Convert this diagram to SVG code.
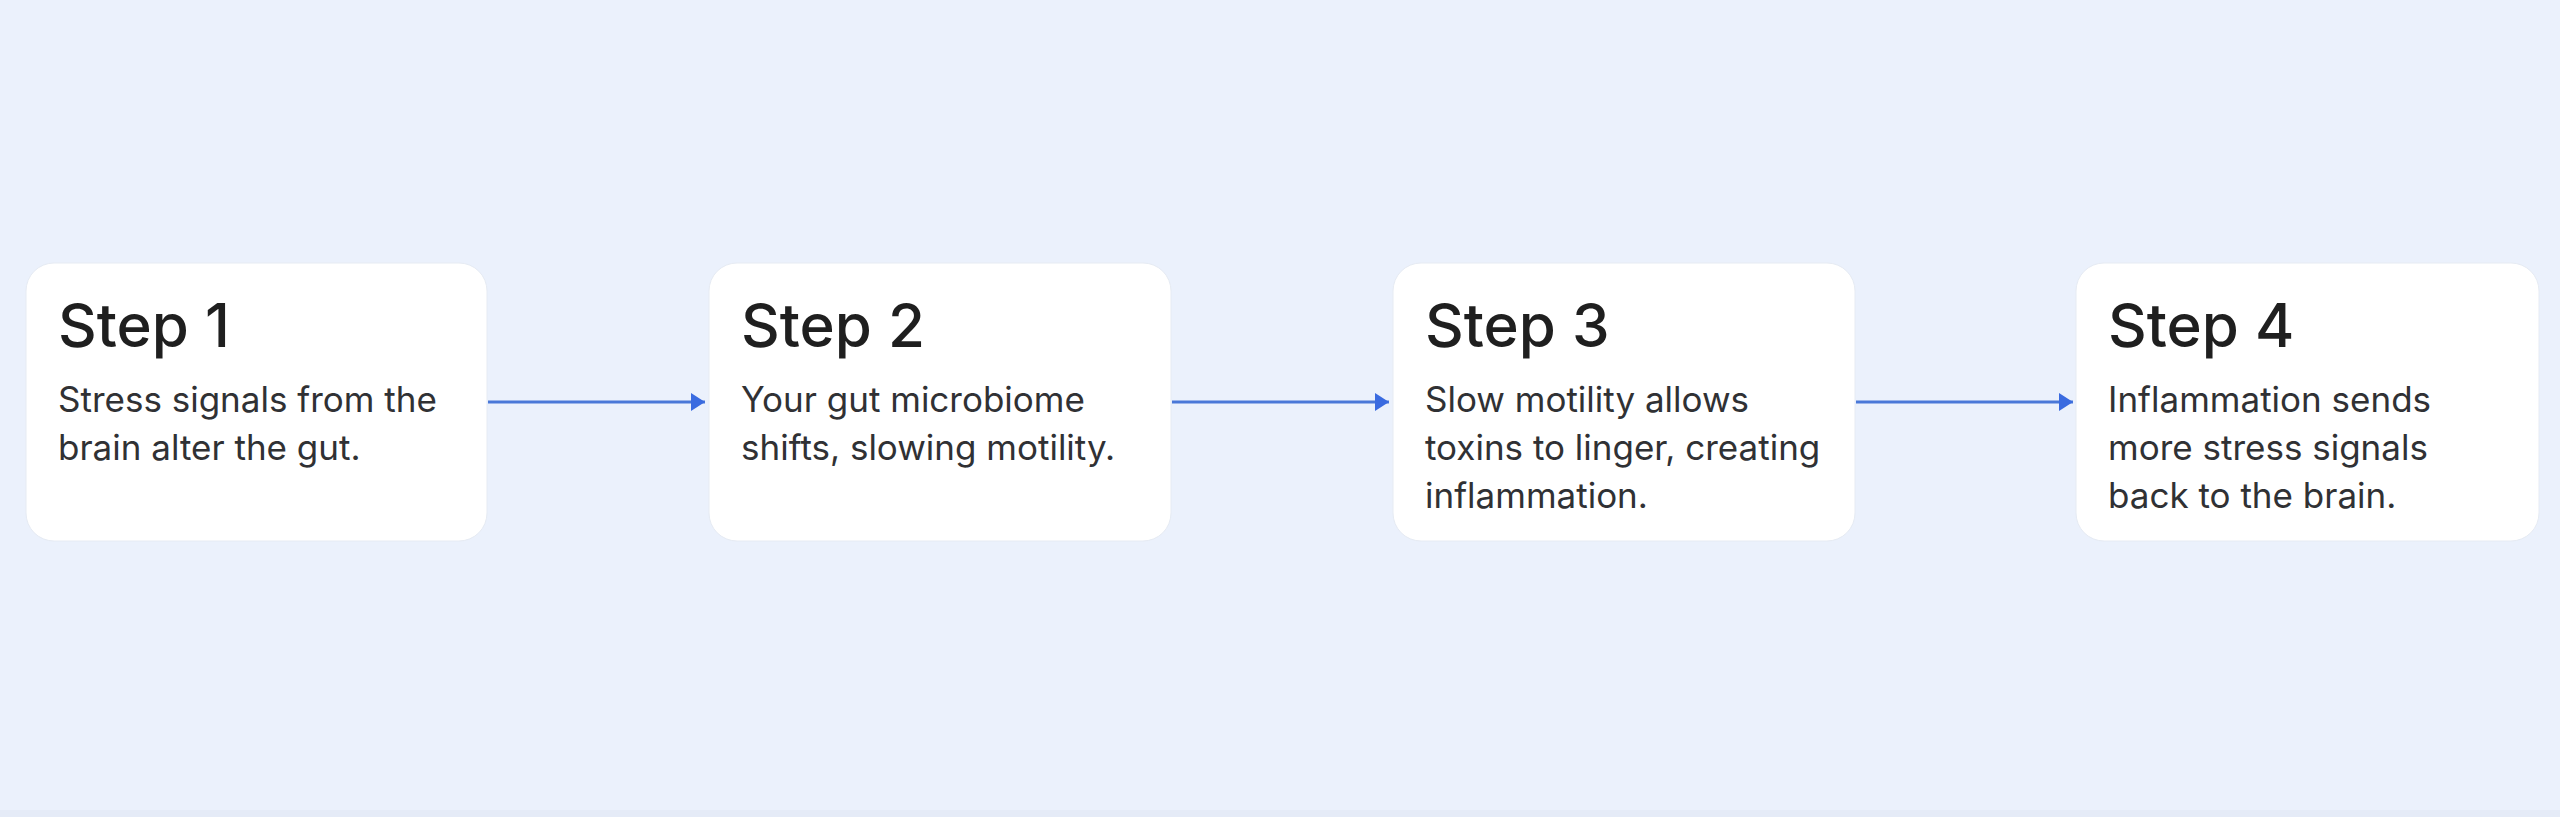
<svg xmlns="http://www.w3.org/2000/svg" width="2560" height="817" viewBox="0 0 2560 817">
<defs>
<style>
.box{fill:#ffffff;stroke:#e6ebf3;stroke-width:1}
.title{font-family:Inter,"Open Sans",sans-serif;font-size:60px;font-weight:500;fill:#1f1f1f}
.body{font-family:Inter,"Open Sans",sans-serif;font-size:35px;font-weight:400;fill:#303134}
.conn{stroke:#4a78d8;stroke-width:3;fill:none}
</style>
<marker id="ah" markerWidth="14" markerHeight="18" refX="14" refY="9" orient="auto" markerUnits="userSpaceOnUse">
<path d="M0,0 L14,9 L0,18 Z" fill="#3a6be0"/>
</marker>
</defs>
<rect x="0" y="0" width="2560" height="817" fill="#ebf1fc"/>
<rect x="0" y="810" width="2560" height="7" fill="#e5ebf7"/>
<g id="connectors">
<line class="conn" x1="488" y1="402" x2="705" y2="402" marker-end="url(#ah)"/>
<line class="conn" x1="1172" y1="402" x2="1389" y2="402" marker-end="url(#ah)"/>
<line class="conn" x1="1856" y1="402" x2="2073" y2="402" marker-end="url(#ah)"/>
</g>
<g id="step1">
<rect class="box" x="26" y="263" width="461" height="278" rx="28"/>
<text class="title" x="58" y="347">Step 1</text>
<text class="body" x="58" y="412">Stress signals from the</text>
<text class="body" x="58" y="460">brain alter the gut.</text>
</g>
<g id="step2">
<rect class="box" x="709" y="263" width="462" height="278" rx="28"/>
<text class="title" x="741" y="347">Step 2</text>
<text class="body" x="741" y="412">Your gut microbiome</text>
<text class="body" x="741" y="460">shifts, slowing motility.</text>
</g>
<g id="step3">
<rect class="box" x="1393" y="263" width="462" height="278" rx="28"/>
<text class="title" x="1425" y="347">Step 3</text>
<text class="body" x="1425" y="412">Slow motility allows</text>
<text class="body" x="1425" y="460">toxins to linger, creating</text>
<text class="body" x="1425" y="508">inflammation.</text>
</g>
<g id="step4">
<rect class="box" x="2076" y="263" width="463" height="278" rx="28"/>
<text class="title" x="2108" y="347">Step 4</text>
<text class="body" x="2108" y="412">Inflammation sends</text>
<text class="body" x="2108" y="460">more stress signals</text>
<text class="body" x="2108" y="508">back to the brain.</text>
</g>
</svg>
